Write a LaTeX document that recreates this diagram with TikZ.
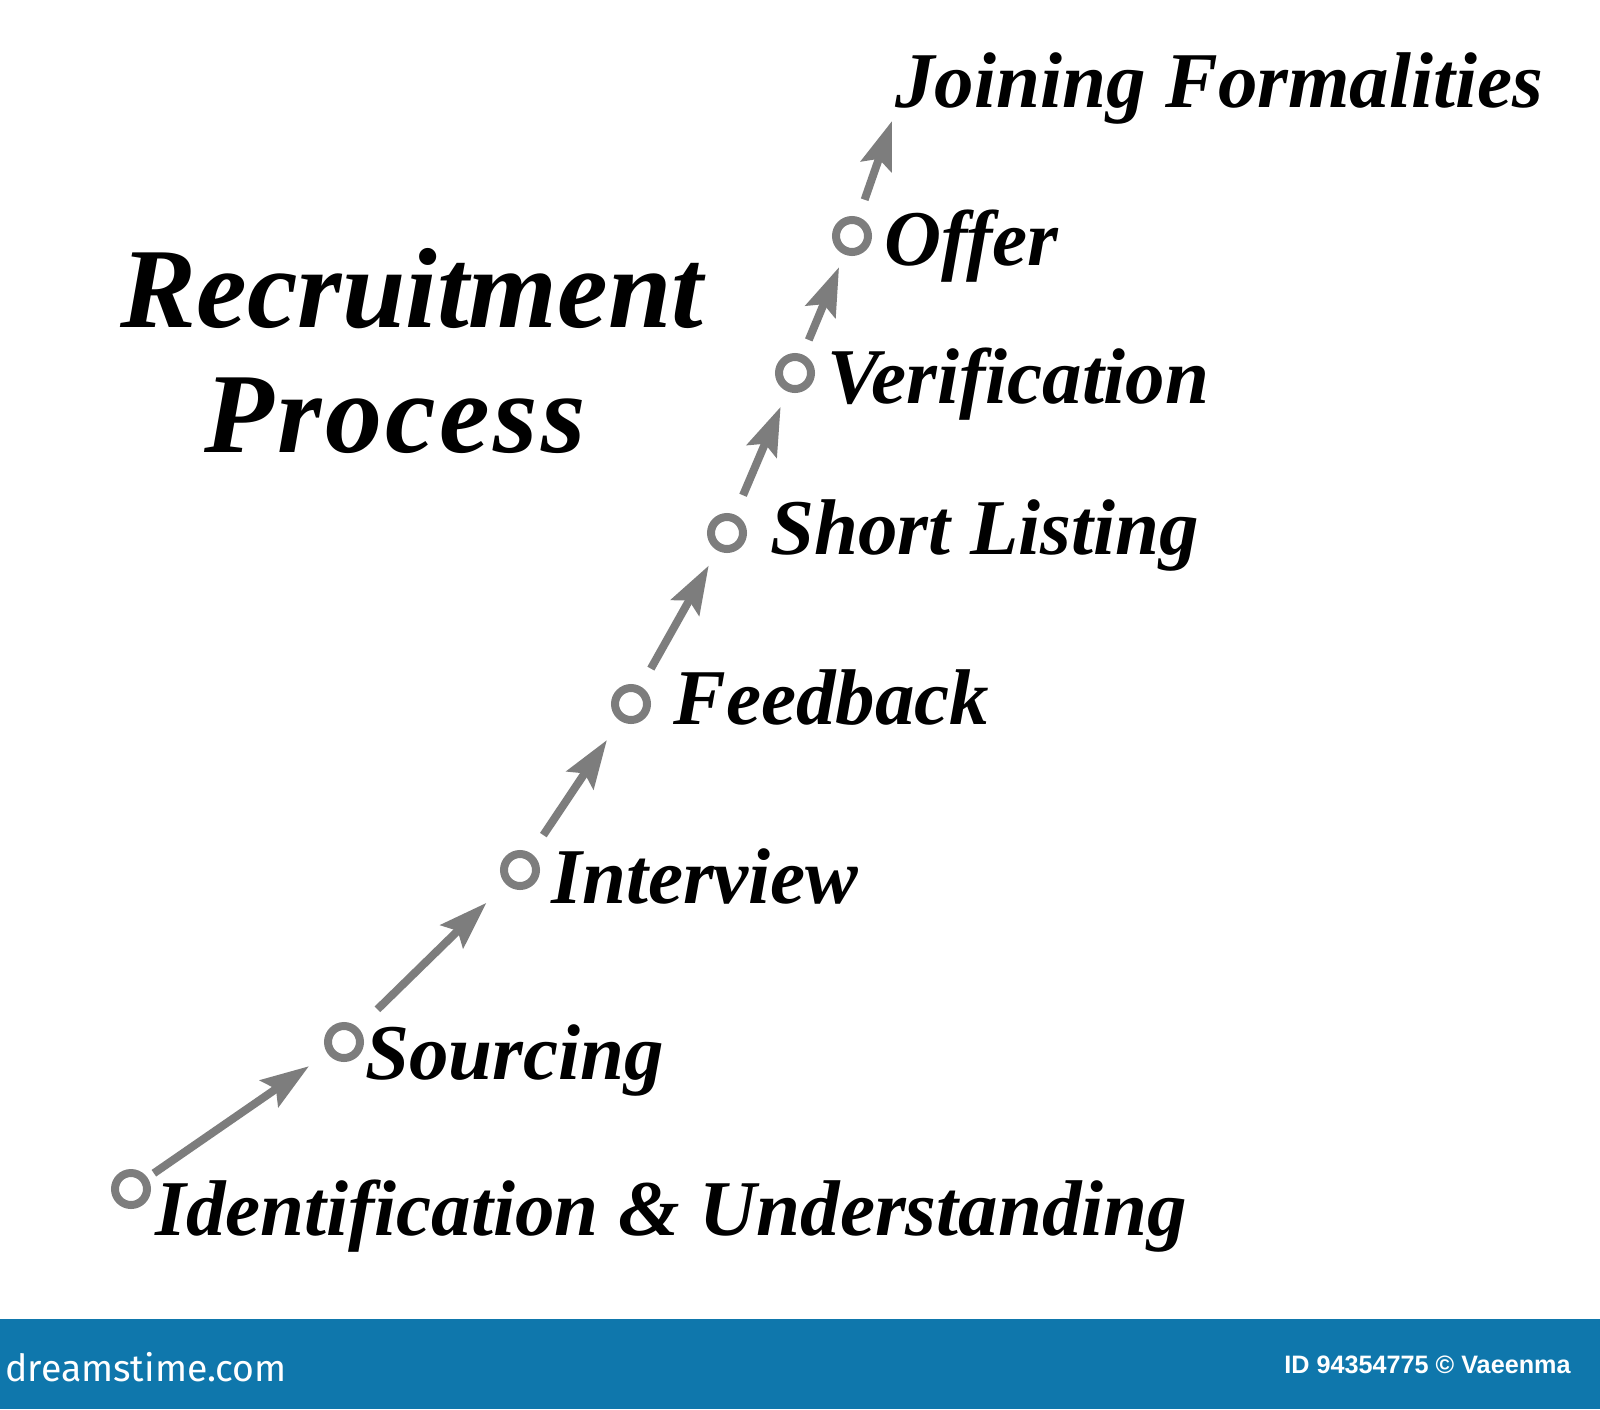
\documentclass[tikz,border=0pt]{standalone}
\usepackage{fontspec}
\setmainfont{Liberation Serif}
\newfontfamily\wmfont{Fira Sans}
\newfontfamily\idfont{Liberation Sans}
\usetikzlibrary{arrows.meta}
\definecolor{ringgray}{RGB}{125,125,125}
\definecolor{barblue}{RGB}{15,119,172}
\begin{document}
\begin{tikzpicture}[x=0.5pt,y=-0.5pt,
 ring/.style={circle,draw=ringgray,line width=4pt,minimum size=16pt,inner sep=0pt,outer sep=0pt},
 lbl/.style={anchor=base west,inner sep=0pt,font=\fontsize{39.5}{44}\selectfont\bfseries\itshape},
 ttl/.style={anchor=base west,inner sep=0pt,font=\fontsize{57}{64}\selectfont\bfseries\itshape},
 flow/.style={draw=ringgray,line width=4pt,-{Stealth[length=24pt,width=16pt,inset=4pt]}}]
\useasboundingbox (0,0) rectangle (1600,1409);
\fill[white] (0,0) rectangle (1600,1409);
% rings
\node[ring] (c1) at (131,1189) {};
\node[ring] (c2) at (344,1042) {};
\node[ring] (c3) at (520,870) {};
\node[ring] (c4) at (631,704) {};
\node[ring] (c5) at (727,533) {};
\node[ring] (c6) at (795,373) {};
\node[ring] (c7) at (852,236) {};
\coordinate (jt) at (892,121);
% arrows
\draw[flow,shorten <=5.9pt,shorten >=13.3pt] (c1) -- (c2);
\draw[flow,shorten <=15.4pt,shorten >=15.5pt] (c2) -- (c3);
\draw[flow,shorten <=13pt,shorten >=13.7pt] (c3) -- (c4);
\draw[flow,shorten <=12.3pt,shorten >=10.7pt] (c4) -- (c5);
\draw[flow,shorten <=12.5pt,shorten >=10.4pt] (c5) -- (c6);
\draw[flow,shorten <=9.9pt,shorten >=8.9pt] (c6) -- (c7);
\draw[flow,shorten <=11.2pt] (c7) -- (jt);
% labels
\node[lbl] (l1) at (155,1235) {Identification \& Understanding};
\node[lbl] (l2) at (365,1079) {Sourcing};
\node[lbl] (l3) at (551,903) {Interview};
\node[lbl] (l4) at (673,724) {Feedback};
\node[lbl] (l5) at (770,554) {Short Listing};
\node[lbl] (l6) at (827,403) {Verification};
\node[lbl] (l7) at (884,265) {Offer};
\node[lbl] (l8) at (895,107) {Joining Formalities};
\node[ttl] (t1) at (120,327) {Recruitment};
\node[ttl] (t2) at (204,452) {\addfontfeature{LetterSpace=3}Process};
% bottom bar
\fill[barblue] (0,1319) rectangle (1600,1409);
\node[anchor=base west,inner sep=0pt,text=white,font=\wmfont\fontsize{18.7}{20}\selectfont] (dm) at (5,1381) {dreamstime.com};
\node[anchor=base east,inner sep=0pt,text=white,font=\idfont\bfseries\fontsize{12.6}{14}\selectfont] (id) at (1571,1373) {ID 94354775 © Vaeenma};
\end{tikzpicture}
\end{document}
